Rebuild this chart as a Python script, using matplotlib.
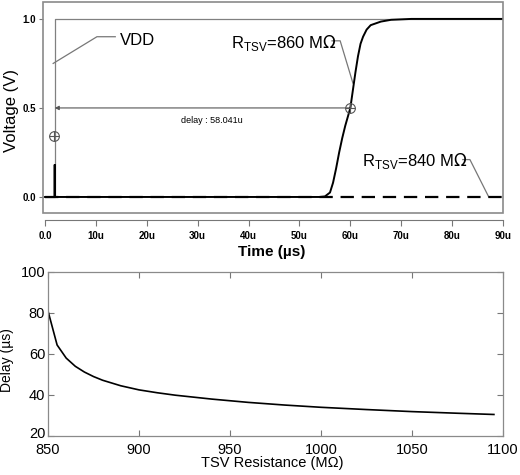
import matplotlib
matplotlib.use("Agg")
import matplotlib.pyplot as plt
from matplotlib.patches import Rectangle
from matplotlib.transforms import ScaledTranslation

plt.rcParams['font.family'] = ['Liberation Sans', 'DejaVu Sans']

# ---- top panel data (time in microseconds, voltage in V) ----
vdd_t = [0, 1.9, 1.9, 90]
vdd_v = [0, 0, 1.0, 1.0]

r860_t = [0, 1.9, 1.9, 1.9, 54, 55, 56, 56.6, 57.2, 57.8, 58.4, 59, 59.5, 60, 60.5,
          61, 61.5, 62, 62.5, 63.2, 64, 66, 68, 72, 90]
r860_v = [0, 0, 0.18, 0, 0, 0.003, 0.025, 0.08, 0.16, 0.25, 0.33, 0.40, 0.45, 0.5, 0.6,
          0.7, 0.79, 0.86, 0.9, 0.94, 0.965, 0.985, 0.995, 1.0, 1.0]

r840_t = [0, 90]
r840_v = [0, 0]

x_ticks_top = [0, 10, 20, 30, 40, 50, 60, 70, 80, 90]
x_ticklabels_top = ["0.0", "10u", "20u", "30u", "40u", "50u", "60u", "70u", "80u", "90u"]
y_ticks_top = [0.0, 0.5, 1.0]
y_ticklabels_top = ["0.0", "0.5", "1.0"]

# ---- bottom panel data ----
res = [850, 855, 860, 865, 870, 875, 880, 890, 900, 910, 920, 940, 960, 980,
       1000, 1025, 1050, 1075, 1095]
delay = [81, 64.4, 58, 54, 51.2, 49, 47.2, 44.5, 42.5, 41.1, 39.9, 38.0, 36.4,
         35.1, 34.0, 32.9, 31.9, 31.1, 30.5]

W, H = 520, 475
fig = plt.figure(figsize=(W / 100, H / 100), dpi=100)

# ================= top panel =================
ax1 = fig.add_axes([43 / W, 1 - 213 / H, 460 / W, 211 / H])
ax1.set_xlim(-0.4, 90)
ax1.set_ylim(-0.09, 1.095)
for s in ['top', 'right', 'left']:
    ax1.spines[s].set_visible(False)
ax1.spines['bottom'].set_position(('outward', 5))
ax1.spines['bottom'].set_bounds(0, 90)
ax1.spines['bottom'].set_color('#777777')
ax1.add_patch(Rectangle((0, 0), 1, 1, transform=ax1.transAxes, fill=False,
                        edgecolor='#8a8a8a', lw=1.2, clip_on=False, zorder=5))

ax1.plot(vdd_t, vdd_v, color='#808080', lw=0.9, zorder=2)
ax1.plot(r840_t, r840_v, color='black', lw=1.6, dashes=(6, 3.5), zorder=3)
ax1.plot(r860_t, r860_v, color='black', lw=1.4, zorder=4)

# delay arrow
ax1.annotate('', xy=(1.9, 0.5), xytext=(60, 0.5),
             arrowprops=dict(arrowstyle='-|>', lw=0.8, color='#555555',
                             mutation_scale=6, shrinkA=0, shrinkB=0))
ax1.text(32.8, 0.43, 'delay : 58.041u', fontsize=6.5, ha='center', va='center')
for (mx, my) in [(1.8, 0.34), (60, 0.5)]:
    ax1.plot([mx], [my], marker='o', ms=7, mfc='none', mec='#555555', mew=0.8, zorder=6)
    ax1.plot([mx], [my], marker='+', ms=7, color='#555555', mew=0.8, zorder=6)

# leaders and labels
ax1.plot([1.6, 10.2, 13.8], [0.75, 0.9, 0.9], color='#777777', lw=0.9)
ax1.text(14.8, 0.88, 'VDD', fontsize=12, ha='left', va='center')
ax1.plot([56.4, 58, 60.5], [0.877, 0.877, 0.64], color='#777777', lw=0.9)
ax1.text(36.6, 0.865, r'R$_{\mathregular{TSV}}$=860 M$\Omega$', fontsize=12,
         ha='left', va='center')
ax1.plot([82.1, 83.5, 87.2], [0.21, 0.21, 0.0], color='#777777', lw=0.9)
ax1.text(62.3, 0.2, r'R$_{\mathregular{TSV}}$=840 M$\Omega$', fontsize=12,
         ha='left', va='center')

ax1.set_xticks(x_ticks_top)
ax1.set_xticklabels(x_ticklabels_top, fontsize=7, fontweight='bold')
ax1.set_yticks(y_ticks_top)
ax1.set_yticklabels(y_ticklabels_top, fontsize=7, fontweight='bold')
ax1.tick_params(axis='x', direction='out', length=4, width=0.8, color='#777777', pad=4)
ax1.tick_params(axis='y', direction='out', length=3, width=0.8, color='#777777', pad=2)

fig.text(272 / W, 1 - 252 / H, 'Time (\u00b5s)', fontsize=11, fontweight='bold',
         ha='center', va='center')
fig.text(12 / W, 1 - 110 / H, 'Voltage (V)', fontsize=12, rotation=90,
         ha='center', va='center')

# ================= bottom panel =================
ax2 = fig.add_axes([48 / W, 1 - 436 / H, 455 / W, 164 / H])
ax2.plot(res, delay, color='black', lw=1.2)
ax2.set_xlim(850, 1100)
ax2.set_ylim(20, 100)
ax2.set_xticks([850, 900, 950, 1000, 1050, 1100])
ax2.set_yticks([20, 40, 60, 80, 100])
ax2.tick_params(direction='in', top=True, right=True, length=4, width=0.8,
                color='#777777', labelsize=10.5)
ax2.tick_params(axis='x', pad=5)
ax2.tick_params(axis='y', pad=2)
for s in ax2.spines.values():
    s.set_color('#8a8a8a')
    s.set_linewidth(0.9)
# nudge lowest y label up slightly so it does not collide with "850"
ylab0 = ax2.get_yticklabels()[0]
ylab0.set_transform(ylab0.get_transform() + ScaledTranslation(0, 3 / 100, fig.dpi_scale_trans))

fig.text(7 / W, 1 - 360 / H, 'Delay (\u00b5s)', fontsize=10, rotation=90,
         ha='center', va='center')
fig.text(272 / W, 1 - 463 / H, 'TSV Resistance (M\u03a9)', fontsize=10.5,
         ha='center', va='center')

fig.savefig('out.png', dpi=100)
